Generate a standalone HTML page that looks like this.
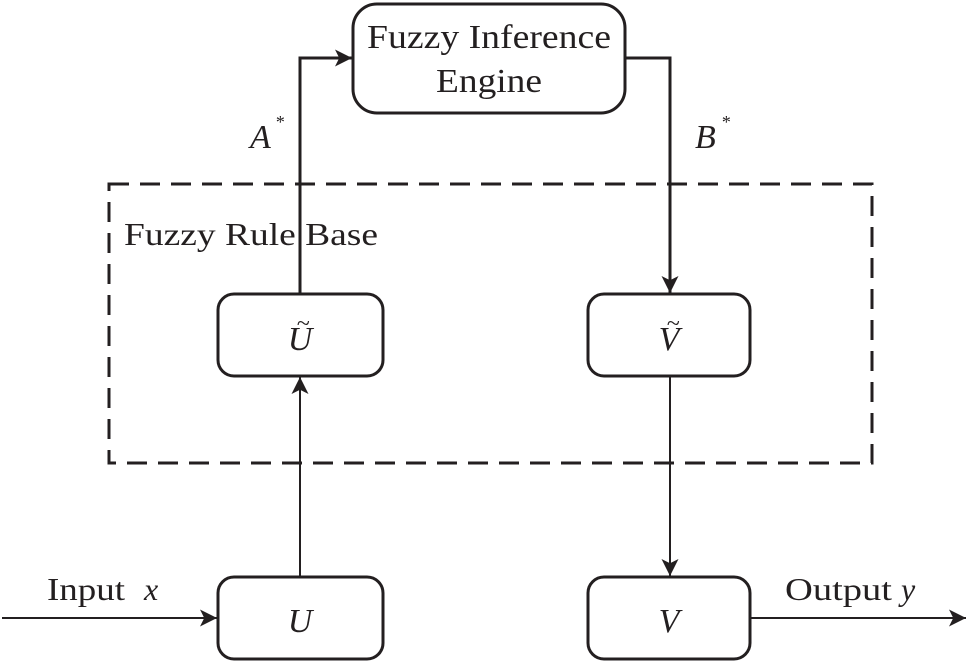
<!DOCTYPE html>
<html><head><style>html,body{margin:0;padding:0;background:#fff}svg{display:block}</style></head>
<body>
<svg width="969" height="662" viewBox="0 0 969 662" xmlns="http://www.w3.org/2000/svg" font-family="'Liberation Serif', serif" fill="#231f20">
<defs>
<marker id="ah" viewBox="0 0 10 10" refX="10" refY="5" markerWidth="17" markerHeight="17" markerUnits="userSpaceOnUse" orient="auto">
<path d="M0,0 L10,5 L0,10 L2.5,5 z" fill="#231f20"/>
</marker>
</defs>
<g stroke="#231f20" stroke-width="3" fill="none">
<rect x="353" y="4" width="272" height="109" rx="24"/>
<rect x="109" y="184" width="763" height="279" stroke-dasharray="20,11"/>
<rect x="218" y="294" width="165" height="82" rx="16"/>
<rect x="588" y="294" width="162" height="82" rx="16"/>
<rect x="218" y="577" width="165" height="82" rx="16"/>
<rect x="588" y="577" width="162" height="82" rx="16"/>
<polyline points="300,294 300,58 352,58" marker-end="url(#ah)"/>
<polyline points="625,58 670,58 670,293" marker-end="url(#ah)"/>
<line x1="300" y1="577" x2="300" y2="377" marker-end="url(#ah)" stroke-width="2"/>
<line x1="670" y1="376" x2="670" y2="576" marker-end="url(#ah)" stroke-width="2"/>
<line x1="2" y1="618" x2="217" y2="618" marker-end="url(#ah)" stroke-width="2"/>
<line x1="750" y1="618" x2="966" y2="618" marker-end="url(#ah)" stroke-width="2"/>
</g>
<g font-size="34">
<text x="489" y="48" text-anchor="middle" textLength="244" lengthAdjust="spacingAndGlyphs">Fuzzy Inference</text>
<text x="489" y="92" text-anchor="middle" textLength="106" lengthAdjust="spacingAndGlyphs">Engine</text>
<text x="124" y="245" font-size="32" textLength="254" lengthAdjust="spacingAndGlyphs">Fuzzy Rule Base</text>
<text x="47" y="600" font-size="32" textLength="78" lengthAdjust="spacingAndGlyphs">Input</text>
<text x="144" y="600" font-size="32" font-style="italic">x</text>
<text x="785" y="600" font-size="32" textLength="107" lengthAdjust="spacingAndGlyphs">Output</text>
<text x="901" y="600" font-size="32" font-style="italic">y</text>
<g font-style="italic">
<text x="250" y="148">A</text><text x="275" y="128" font-size="18">*</text>
<text x="695" y="148">B</text><text x="721" y="128" font-size="18">*</text>
<text x="300" y="350" text-anchor="middle">U</text>
<text x="303" y="331" text-anchor="middle" font-size="24">~</text>
<text x="669" y="350" text-anchor="middle">V</text>
<text x="673" y="331" text-anchor="middle" font-size="24">~</text>
<text x="300" y="632" text-anchor="middle">U</text>
<text x="669" y="632" text-anchor="middle">V</text>
</g>
</g>
</svg>
</body></html>
